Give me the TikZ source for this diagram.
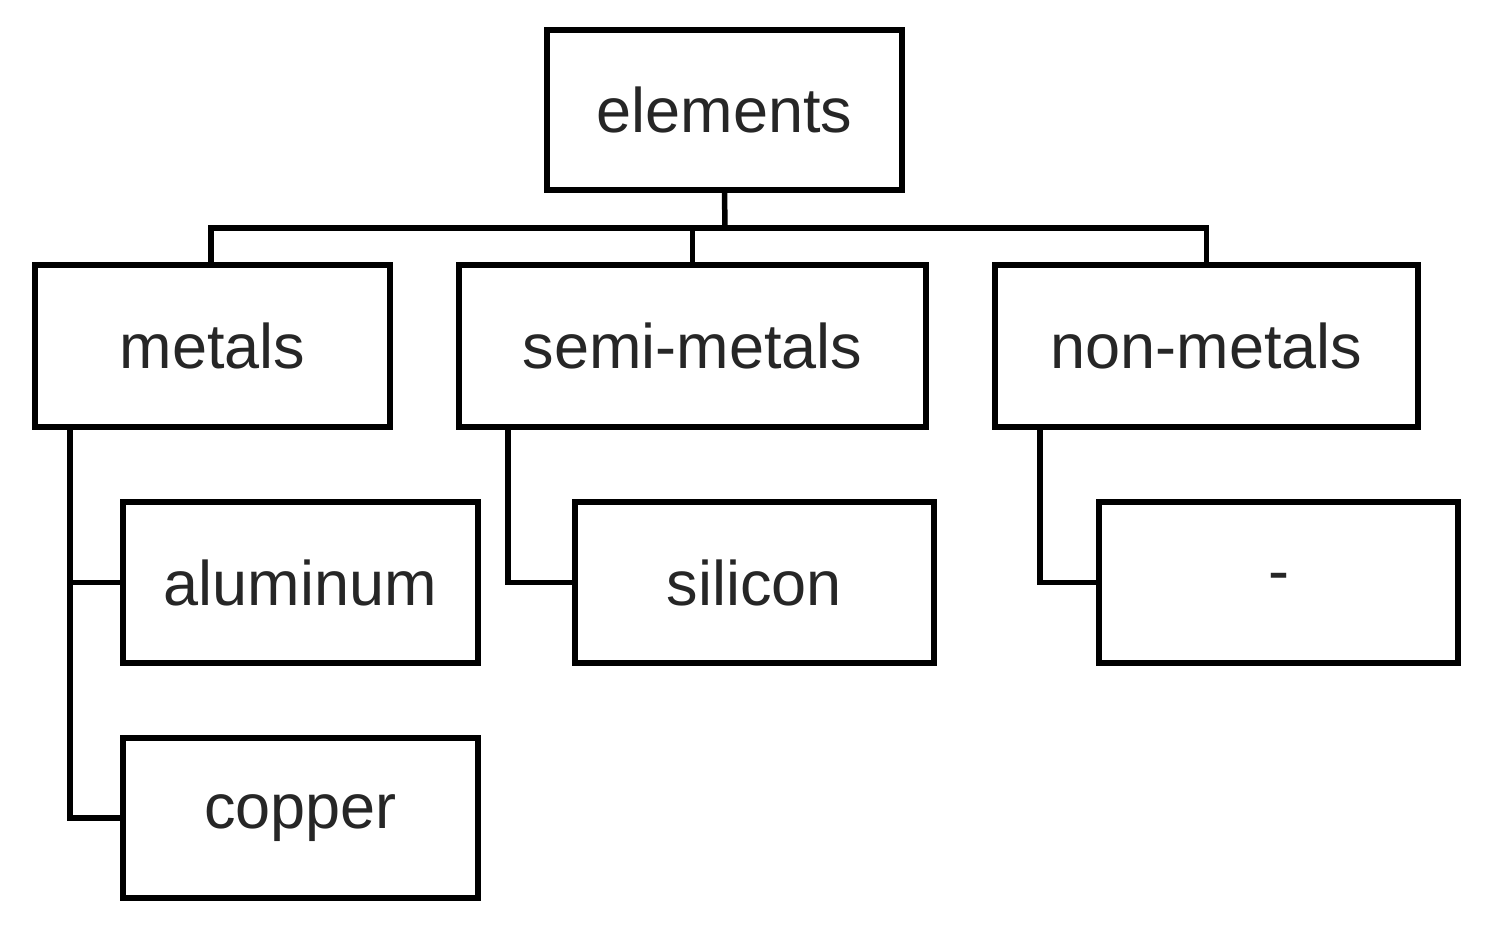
\documentclass[tikz,border=0pt]{standalone}
\usepackage{fontspec}
\setmainfont{Liberation Sans}
\begin{document}
\begin{tikzpicture}[x=1pt,y=-1pt,
  box/.style={draw,line width=5.5pt,inner sep=0pt,font=\fontsize{63}{72}\selectfont,text=black!85},
  con/.style={line width=5.5pt}]
\useasboundingbox (0,0) rectangle (1493,929);
\node[box,minimum width=355,minimum height=160] (el) at (724.5,110) {elements};
\node[box,minimum width=355,minimum height=162] (me) at (212.5,346) {metals};
\node[box,minimum width=467,minimum height=162] (se) at (692.5,346) {semi-metals};
\node[box,minimum width=423,minimum height=162] (no) at (1206.5,346) {non-metals};
\node[box,minimum width=355,minimum height=161] (al) at (300.5,582.5) {aluminum};
\node[box,minimum width=359,minimum height=161] (si) at (754.5,582.5) {silicon};
\node[box,minimum width=359,minimum height=161] (da) at (1278.5,582.5) {\raisebox{-0.28em}{-}};
\node[box,minimum width=355,minimum height=160] (co) at (300.5,818) {copper};
\coordinate (j) at (725,228);
\draw[con] (el.south) -- (j);
\draw[con] (me.north -| 211,0) |- (j) -| (no.north);
\draw[con] (j -| se.north) -- (se.north);
\draw[con] (me.south -| 70,0) |- (al.west);
\draw[con] (me.south -| 70,0) |- (co.west);
\draw[con] (se.south -| 508,0) |- (si.west);
\draw[con] (no.south -| 1040,0) |- (da.west);
\end{tikzpicture}
\end{document}
